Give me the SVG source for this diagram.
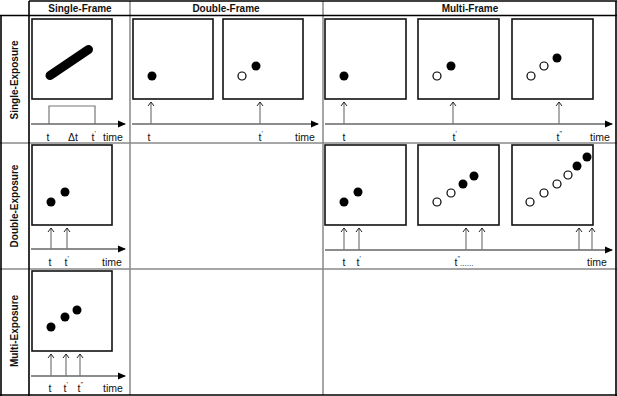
<svg xmlns="http://www.w3.org/2000/svg" width="617" height="396" viewBox="0 0 617 396">
<defs>
<marker id="ah" markerWidth="8" markerHeight="8" refX="7" refY="4" orient="auto" markerUnits="userSpaceOnUse">
<path d="M0,0.5 L8,4 L0,7.5 Z" fill="#000"/>
</marker>
<marker id="up" markerWidth="8" markerHeight="8" refX="4" refY="1" orient="0" markerUnits="userSpaceOnUse">
<path d="M1,5 L4,1 L7,5" fill="none" stroke="#222" stroke-width="1"/>
</marker>
</defs>
<style>
.hd{font-family:"Liberation Sans",Arial,sans-serif;font-weight:bold;font-size:10px;fill:#111;text-anchor:middle}
.lb{font-family:"Liberation Sans",Arial,sans-serif;font-size:10.5px;fill:#111;text-anchor:middle}
.ls{font-family:"Liberation Sans",Arial,sans-serif;font-size:10.5px;fill:#111;text-anchor:start}
.pr{font-size:7px}
.fr{fill:#fff;stroke:#111;stroke-width:1.6}
.fd{fill:#000}
.op{fill:#fff;stroke:#000;stroke-width:1.2}
.ax{stroke:#666;stroke-width:1.3;fill:none}
.tk{stroke:#777;stroke-width:1.2;fill:none}
.gl{stroke:#888;stroke-width:1.5}
.bl{stroke:#000;stroke-width:1.6}
</style>
<rect width="617" height="396" fill="#fff"/>
<g id="grid">
<line class="gl" x1="130" y1="1" x2="130" y2="395"/>
<line class="gl" x1="323" y1="1" x2="323" y2="395"/>
<line class="gl" x1="0" y1="143" x2="617" y2="143"/>
<line class="gl" x1="0" y1="269" x2="617" y2="269"/>
<line class="bl" x1="29" y1="1" x2="617" y2="1"/>
<line class="bl" x1="0" y1="15.5" x2="617" y2="15.5"/>
<line class="bl" x1="29" y1="1" x2="29" y2="396"/>
<line class="bl" x1="1" y1="15" x2="1" y2="396"/>
<line class="bl" x1="616" y1="1" x2="616" y2="396"/>
<line class="bl" x1="0" y1="395" x2="617" y2="395"/>
</g>
<g id="headers">
<text class="hd" x="80" y="12">Single-Frame</text>
<text class="hd" x="226" y="12">Double-Frame</text>
<text class="hd" x="470" y="12">Multi-Frame</text>
<text class="hd" transform="translate(18,80) rotate(-90)">Single-Exposure</text>
<text class="hd" transform="translate(18,206) rotate(-90)">Double-Exposure</text>
<text class="hd" transform="translate(18,331) rotate(-90)">Multi-Exposure</text>
</g>
<g id="se-sf">
<rect class="fr" x="32" y="19" width="80" height="80"/>
<line x1="50" y1="75.5" x2="88.5" y2="49.5" stroke="#000" stroke-width="9" stroke-linecap="round"/>
<polyline class="tk" points="49,124 49,106 95,106 95,124"/>
<line class="ax" x1="31" y1="124" x2="125" y2="124" marker-end="url(#ah)"/>
<text class="lb" x="48" y="141">t</text>
<text class="lb" x="73" y="141">Δt</text>
<text class="ls" x="91.5" y="141">t<tspan class="pr" dy="-5">'</tspan></text>
<text class="lb" x="113" y="141">time</text>
</g>
<g id="se-df">
<rect class="fr" x="133" y="19" width="80" height="80"/>
<circle class="fd" cx="152" cy="76" r="4.5"/>
<rect class="fr" x="223" y="19" width="80" height="80"/>
<circle class="op" cx="242" cy="76" r="4"/>
<circle class="fd" cx="256" cy="66" r="4.5"/>
<line class="ax" x1="132" y1="124" x2="318" y2="124" marker-end="url(#ah)"/>
<line class="tk" x1="151" y1="124" x2="151" y2="102" marker-end="url(#up)"/>
<line class="tk" x1="260" y1="124" x2="260" y2="102" marker-end="url(#up)"/>
<text class="lb" x="149" y="141">t</text>
<text class="ls" x="258.5" y="141">t<tspan class="pr" dy="-5">'</tspan></text>
<text class="lb" x="305" y="141">time</text>
</g>
<g id="se-mf">
<rect class="fr" x="325" y="19" width="81" height="80"/>
<circle class="fd" cx="344" cy="76" r="4.5"/>
<rect class="fr" x="418" y="19" width="81" height="80"/>
<circle class="op" cx="437" cy="76" r="4"/>
<circle class="fd" cx="451" cy="66" r="4.5"/>
<rect class="fr" x="512" y="19" width="81" height="80"/>
<circle class="op" cx="531" cy="76" r="4"/>
<circle class="op" cx="544" cy="66" r="4"/>
<circle class="fd" cx="557" cy="58" r="4.5"/>
<line class="ax" x1="325" y1="124" x2="612" y2="124" marker-end="url(#ah)"/>
<line class="tk" x1="344" y1="124" x2="344" y2="102" marker-end="url(#up)"/>
<line class="tk" x1="453" y1="124" x2="453" y2="102" marker-end="url(#up)"/>
<line class="tk" x1="559" y1="124" x2="559" y2="102" marker-end="url(#up)"/>
<text class="lb" x="344" y="141">t</text>
<text class="ls" x="452.5" y="141">t<tspan class="pr" dy="-5">'</tspan></text>
<text class="ls" x="556.5" y="141">t<tspan class="pr" dy="-5">''</tspan></text>
<text class="lb" x="600" y="141">time</text>
</g>
<g id="de-sf">
<rect class="fr" x="32" y="145" width="80" height="80"/>
<circle class="fd" cx="51" cy="202" r="4.5"/>
<circle class="fd" cx="65" cy="192" r="4.5"/>
<line class="ax" x1="31" y1="249" x2="125" y2="249" marker-end="url(#ah)"/>
<line class="tk" x1="51" y1="249" x2="51" y2="228" marker-end="url(#up)"/>
<line class="tk" x1="67" y1="249" x2="67" y2="228" marker-end="url(#up)"/>
<text class="lb" x="50" y="266">t</text>
<text class="ls" x="64.5" y="266">t<tspan class="pr" dy="-5">'</tspan></text>
<text class="lb" x="112" y="266">time</text>
</g>
<g id="de-mf">
<rect class="fr" x="325" y="145" width="81" height="80"/>
<circle class="fd" cx="344" cy="202" r="4.5"/>
<circle class="fd" cx="358" cy="192" r="4.5"/>
<rect class="fr" x="418" y="145" width="81" height="80"/>
<circle class="op" cx="437" cy="202" r="4"/>
<circle class="op" cx="451" cy="193" r="4"/>
<circle class="fd" cx="463" cy="184" r="4.5"/>
<circle class="fd" cx="474" cy="176" r="4.5"/>
<rect class="fr" x="512" y="145" width="81" height="80"/>
<circle class="op" cx="530" cy="202" r="4"/>
<circle class="op" cx="544" cy="193" r="4"/>
<circle class="op" cx="557" cy="184" r="4"/>
<circle class="op" cx="568" cy="175" r="4"/>
<circle class="fd" cx="577" cy="166" r="4.5"/>
<circle class="fd" cx="587" cy="157" r="4.5"/>
<line class="ax" x1="325" y1="250" x2="612" y2="250" marker-end="url(#ah)"/>
<line class="tk" x1="344" y1="250" x2="344" y2="228" marker-end="url(#up)"/>
<line class="tk" x1="359" y1="250" x2="359" y2="228" marker-end="url(#up)"/>
<line class="tk" x1="466" y1="250" x2="466" y2="228" marker-end="url(#up)"/>
<line class="tk" x1="482" y1="250" x2="482" y2="228" marker-end="url(#up)"/>
<line class="tk" x1="579" y1="250" x2="579" y2="228" marker-end="url(#up)"/>
<line class="tk" x1="592" y1="250" x2="592" y2="228" marker-end="url(#up)"/>
<text class="lb" x="344" y="266">t</text>
<text class="ls" x="356.5" y="266">t<tspan class="pr" dy="-5">'</tspan></text>
<text class="ls" x="454.5" y="266">t<tspan class="pr" dy="-5">''</tspan><tspan dy="5" font-size="8">......</tspan></text>
<text class="lb" x="597" y="266">time</text>
</g>
<g id="me-sf">
<rect class="fr" x="32" y="271" width="80" height="80"/>
<circle class="fd" cx="51" cy="327" r="4.5"/>
<circle class="fd" cx="65" cy="317" r="4.5"/>
<circle class="fd" cx="77" cy="310" r="4.5"/>
<line class="ax" x1="31" y1="376" x2="125" y2="376" marker-end="url(#ah)"/>
<line class="tk" x1="51" y1="376" x2="51" y2="354" marker-end="url(#up)"/>
<line class="tk" x1="66" y1="376" x2="66" y2="354" marker-end="url(#up)"/>
<line class="tk" x1="80" y1="376" x2="80" y2="354" marker-end="url(#up)"/>
<text class="lb" x="50" y="392">t</text>
<text class="ls" x="63.5" y="392">t<tspan class="pr" dy="-5">'</tspan></text>
<text class="ls" x="77.5" y="392">t<tspan class="pr" dy="-5">''</tspan></text>
<text class="lb" x="113" y="392">time</text>
</g>
</svg>
